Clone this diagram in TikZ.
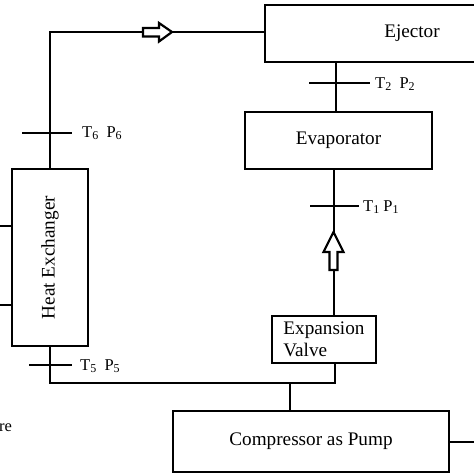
\documentclass[tikz,border=0pt]{standalone}
\usepackage{fontspec}
\setmainfont{Liberation Serif}
\newcommand{\subn}[1]{\raisebox{-0.28ex}{\fontsize{12}{12}\selectfont #1}}
\begin{document}
\begin{tikzpicture}[x=1pt,y=-1pt,
  box/.style={draw,line width=2.8pt,minimum width=#1,inner sep=0pt,font=\fontsize{19.2}{21.5}\selectfont},
  pipe/.style={line width=2.6pt},
  tick/.style={line width=2.6pt},
  lab/.style={anchor=west,inner sep=0pt,font=\fontsize{16.5}{18}\selectfont},
  blockarrow/.style={draw,fill=white,line width=2.2pt,line join=miter}]
\useasboundingbox (0,0) rectangle (474,474);
\clip (0,0) rectangle (474,474);
% boxes
\node[box=294pt,minimum height=57pt] (ej) at (412,33.5) {Ejector};
\node[box=187pt,minimum height=57pt] (evap) at (338.5,140.5) {Evaporator};
\node[box=76pt,minimum height=177pt] (hx) at (50,257.5) {};
\node[rotate=90,font=\fontsize{19.2}{21.5}\selectfont,inner sep=0pt] (hxt) at (hx.center) {Heat Exchanger};
\node[box=104pt,minimum height=47pt,align=left] (ev) at (324,339.5) {Expansion\\Valve};
\node[box=276pt,minimum height=61pt] (cp) at (311,441.5) {Compressor as Pump};
% coordinates
\coordinate (tl) at (50,32);
\coordinate (ejin) at (ej.west |- tl);
\coordinate (ejout) at (336,62);
\coordinate (evapin) at (336,112);
\coordinate (evapout) at (334,169);
\coordinate (evin) at (334,316);
\coordinate (hxtop) at (50,169);
\coordinate (hxbot) at (50,346);
\coordinate (bl) at (50,383);
\coordinate (br) at (335,383);
\coordinate (evbot) at (335,363);
\coordinate (brj) at (290,383);
\coordinate (cptop) at (290,411);
\coordinate (cpr) at (cp.east |- 0,442);
\coordinate (cprr) at (474,442);
\coordinate (hxl1) at (hx.west |- 0,226);
\coordinate (hxl1o) at (0,226);
\coordinate (hxl2) at (hx.west |- 0,305);
\coordinate (hxl2o) at (0,305);
% pipes
\draw[pipe] (hxtop) -- (tl) -- (ejin);
\draw[pipe] (ejout) -- (evapin);
\draw[pipe] (evapout) -- (evin);
\draw[pipe] (hxbot) -- (bl) -- (br) -- (evbot);
\draw[pipe] (brj) -- (cptop);
\draw[pipe] (cpr) -- (cprr);
\draw[pipe] (hxl1o) -- (hxl1);
\draw[pipe] (hxl2o) -- (hxl2);
% block arrows
\draw[blockarrow] (143,28) -- (159,28) -- (159,23) -- (172,32) -- (159,41.5) -- (159,36.5) -- (143,36.5) -- cycle;
\draw[blockarrow] (329.5,270) -- (329.5,252) -- (323.5,252) -- (333.5,232) -- (343.5,252) -- (337.5,252) -- (337.5,270) -- cycle;
% ticks and labels
\coordinate (t6a) at (22,133); \coordinate (t6b) at (72,133);
\draw[tick] (t6a) -- (t6b);
\node[lab] (l6) at (82,133) {T\subn{6}\enspace P\subn{6}};
\coordinate (t5a) at (29,365); \coordinate (t5b) at (72,365);
\draw[tick] (t5a) -- (t5b);
\node[lab] (l5) at (80,366) {T\subn{5}\enspace P\subn{5}};
\coordinate (t2a) at (309,83); \coordinate (t2b) at (370,83);
\draw[tick] (t2a) -- (t2b);
\node[lab] (l2) at (375,84) {T\subn{2}\enspace P\subn{2}};
\coordinate (t1a) at (310,206); \coordinate (t1b) at (359,206);
\draw[tick] (t1a) -- (t1b);
\node[lab] (l1) at (363,207) {T\subn{1} P\subn{1}};
\node[lab] (re) at (-1,428) {re};
\end{tikzpicture}
\end{document}
